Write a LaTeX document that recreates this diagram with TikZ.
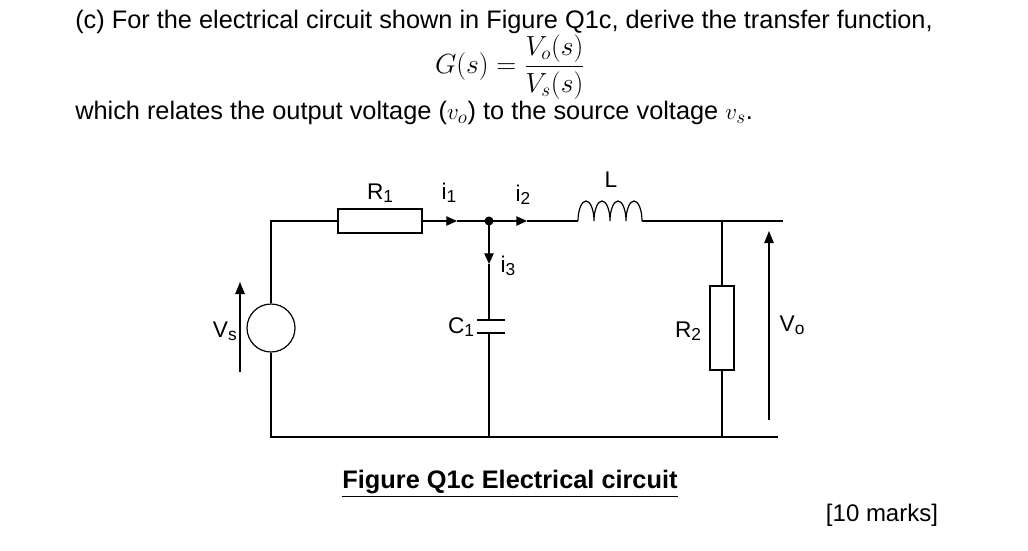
\documentclass[tikz,border=0pt]{standalone}
\usepackage{fontspec}
\setmainfont{Liberation Sans}
\usepackage{amsmath}
\usetikzlibrary{arrows.meta}
\tikzset{
  wire/.style={line width=0.9pt},
  res/.style={draw, line width=0.9pt, fill=white, minimum width=#1, inner sep=0pt},
  lbl/.style={font=\fontsize{17}{20}\selectfont, inner sep=1pt},
  txt/.style={font=\fontsize{19}{23}\selectfont, anchor=west, inner sep=0pt},
  cur/.style={wire, -{Triangle[length=8pt,width=7pt]}},
  volt/.style={line width=1.1pt, -{Triangle[length=9pt,width=7pt]}}
}
\newcommand{\sub}[1]{\raisebox{-0.25ex}{\fontsize{13}{15}\selectfont #1}}
\begin{document}
\begin{tikzpicture}[x=0.75pt,y=-0.75pt]
  \useasboundingbox (0,0) rectangle (1028,550);
  % question text
  \node[txt] (q1) at (75,22) {(c) For the electrical circuit shown in Figure Q1c, derive the transfer function,};
  \node[font=\fontsize{20}{24}\selectfont] (gs) at (510,67) {$G(s)=\dfrac{V_o(s)}{V_s(s)}$};
  \node[txt] (q2) at (75,113) {which relates the output voltage ($v_o$) to the source voltage $v_s$.};
  % corners and junctions
  \coordinate (tl) at (271,221);
  \coordinate (bl) at (271,437);
  \coordinate (J) at (489,221);
  \coordinate (Jb) at (489,437);
  \coordinate (Lin) at (578,221);
  \coordinate (Lout) at (642,221);
  \coordinate (K) at (722,221);
  \coordinate (Kb) at (722,437);
  \coordinate (tr) at (783,221);
  \coordinate (br) at (778,437);
  % components
  \node[draw, circle, line width=0.9pt, minimum size=48*0.75pt, inner sep=0pt] (Vs) at (271,328) {};
  \node[res=84*0.75pt, minimum height=24*0.75pt] (R1) at (380,221) {};
  \node[res=24*0.75pt, minimum height=84*0.75pt] (R2) at (722,328) {};
  \coordinate (C1t) at (489,320);
  \coordinate (C1b) at (489,333);
  \coordinate (a1) at (457,221);
  \coordinate (a2) at (527,221);
  \coordinate (a3) at (489,264);
  % wires
  \draw[wire] (Vs.north) -- (tl) -- (R1.west);
  \draw[wire] (Vs.south) -- (bl) -- (br);
  \draw[cur] (R1.east) -- (a1);
  \draw[wire] (a1) -- (J);
  \draw[cur] (J) -- (a2);
  \draw[wire] (a2) -- (Lin);
  \draw[wire] (Lin) arc[start angle=180,end angle=360,x radius=8,y radius=20]
    arc[start angle=180,end angle=360,x radius=8,y radius=20]
    arc[start angle=180,end angle=360,x radius=8,y radius=20]
    arc[start angle=180,end angle=360,x radius=8,y radius=20];
  \draw[wire] (Lout) -- (tr);
  \draw[cur] (J) -- (a3);
  \draw[wire] (a3) -- (C1t);
  \draw[wire] (477,320) -- (505,320);
  \draw[wire] (477,333) -- (505,333);
  \draw[wire] (C1b) -- (Jb);
  \draw[wire] (K) -- (R2.north);
  \draw[wire] (R2.south) -- (Kb);
  \fill (J) circle (4.5);
  % voltage arrows
  \coordinate (vsb) at (240,372);
  \coordinate (vst) at (240,282);
  \draw[volt] (vsb) -- (vst);
  \coordinate (vob) at (769,420);
  \coordinate (vot) at (769,231);
  \draw[volt] (vob) -- (vot);
  % labels
  \node[lbl] (lR1) at (380,193) {R\sub{1}};
  \node[lbl] (li1) at (449,193) {i\sub{1}};
  \node[lbl] (li2) at (523,195) {i\sub{2}};
  \node[lbl] (lL) at (611,180) {L};
  \node[lbl] (li3) at (508,266) {i\sub{3}};
  \node[lbl] (lC1) at (461,327) {C\sub{1}};
  \node[lbl] (lR2) at (688,331) {R\sub{2}};
  \node[lbl, anchor=east, inner sep=0pt] (lvs) at (237,331) {V\sub{s}};
  \node[lbl] (lvo) at (792,325) {V\sub{o}};
  % caption
  \node[font=\fontsize{19}{23}\selectfont\bfseries] (cap) at (510,484) {\underline{Figure Q1c Electrical circuit}};
  \node[font=\fontsize{18}{21}\selectfont] (marks) at (882,515) {[10 marks]};
\end{tikzpicture}
\end{document}
